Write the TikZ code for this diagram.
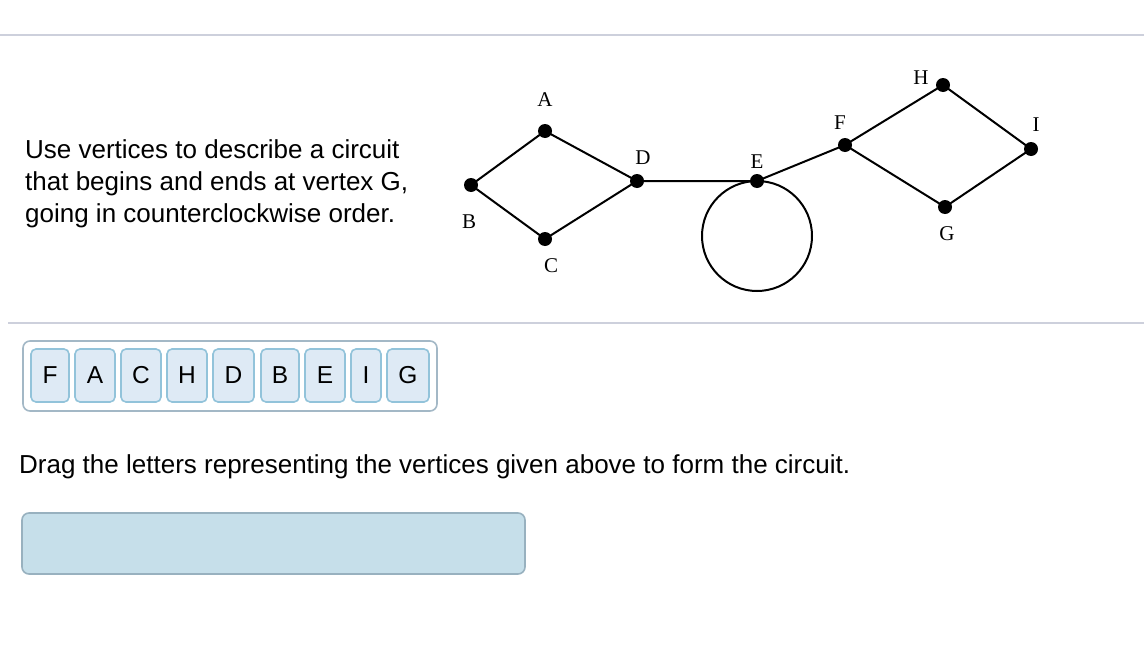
\documentclass[tikz,border=0pt]{standalone}
\usepackage{fontspec}
\setmainfont{Liberation Serif}
\newfontfamily\arialfont{Liberation Sans}
\usetikzlibrary{positioning}

\definecolor{rulegray}{HTML}{cdd0dc}
\definecolor{bankline}{HTML}{a3b8c6}
\definecolor{tilefill}{HTML}{deeaf5}
\definecolor{tileline}{HTML}{92c3da}
\definecolor{dropfill}{HTML}{c6dfea}
\definecolor{dropline}{HTML}{98b1bf}

\begin{document}
\begin{tikzpicture}[x=1pt, y=-1pt]
    \useasboundingbox (0,0) rectangle (1144,656);
    \begin{scope}[vtx/.style={circle, fill=black, inner sep=0pt, minimum size=14pt},
                  lbl/.style={font=\fontsize{21}{21}\selectfont, inner sep=0pt},
                  tile/.style={draw=tileline, fill=tilefill, line width=1.6pt, rounded corners=5pt, minimum height=53pt, inner sep=0pt, font=\arialfont\fontsize{24.5}{24}\selectfont},
                  sans/.style={font=\arialfont\fontsize{26}{32}\selectfont, inner sep=0pt}]
        % separators
        \draw[rulegray, line width=2pt] (0,35) -- (1144,35);
        \draw[rulegray, line width=2pt] (8,323) -- (1144,323);

        % question
        \node[sans, align=left, anchor=north west] (quest) at (25,139) {Use vertices to describe a circuit\\that begins and ends at vertex G,\\going in counterclockwise order.};

        % graph
        \node[vtx] (A) at (545,131) {};
        \node[vtx] (B) at (471,185) {};
        \node[vtx] (C) at (545,239) {};
        \node[vtx] (D) at (637,181) {};
        \node[vtx] (E) at (757,181) {};
        \node[vtx] (F) at (845,145) {};
        \node[vtx] (H) at (943,85) {};
        \node[vtx] (I) at (1031,149) {};
        \node[vtx] (G) at (945,207) {};
        \begin{scope}[line width=2pt]
        \draw (A.center) -- (B.center) -- (C.center) -- (D.center) -- (A.center);
        \draw (D.center) -- (E.center) -- (F.center);
        \draw (F.center) -- (H.center) -- (I.center) -- (G.center) -- (F.center);
        \draw (E.center) arc[start angle=90, end angle=-270, radius=55pt];
        \end{scope}
        \node[lbl] (labA) at (545,100) {A};
        \node[lbl] (labB) at (469,222) {B};
        \node[lbl] (labC) at (551,266) {C};
        \node[lbl] (labD) at (643,158) {D};
        \node[lbl] (labE) at (757,162) {E};
        \node[lbl] (labF) at (840,123) {F};
        \node[lbl] (labH) at (921,78) {H};
        \node[lbl] (labI) at (1036,125) {I};
        \node[lbl] (labG) at (947,234) {G};

        % letter bank
        \draw[bankline, line width=1.6pt, rounded corners=7pt, fill=white] (23,341) rectangle (437,411);
        \node[tile, minimum width=38pt] (tF) at (50,375.5) {F};
        \node[tile, minimum width=40pt] (tA) at (95,375.5) {A};
        \node[tile, minimum width=40pt] (tC) at (141,375.5) {C};
        \node[tile, minimum width=40pt] (tH) at (187,375.5) {H};
        \node[tile, minimum width=41pt] (tD) at (233.5,375.5) {D};
        \node[tile, minimum width=38pt] (tB) at (280,375.5) {B};
        \node[tile, minimum width=40pt] (tE) at (325,375.5) {E};
        \node[tile, minimum width=30pt] (tI) at (366,375.5) {I};
        \node[tile, minimum width=42pt] (tG) at (408,375.5) {G};

        % instruction and drop zone
        \node[sans, anchor=base west] (instr) at (19,473) {Drag the letters representing the vertices given above to form the circuit.};
        \draw[dropline, fill=dropfill, line width=1.6pt, rounded corners=7pt] (22,513) rectangle (525,574);
    \end{scope}
\end{tikzpicture}
\end{document}
